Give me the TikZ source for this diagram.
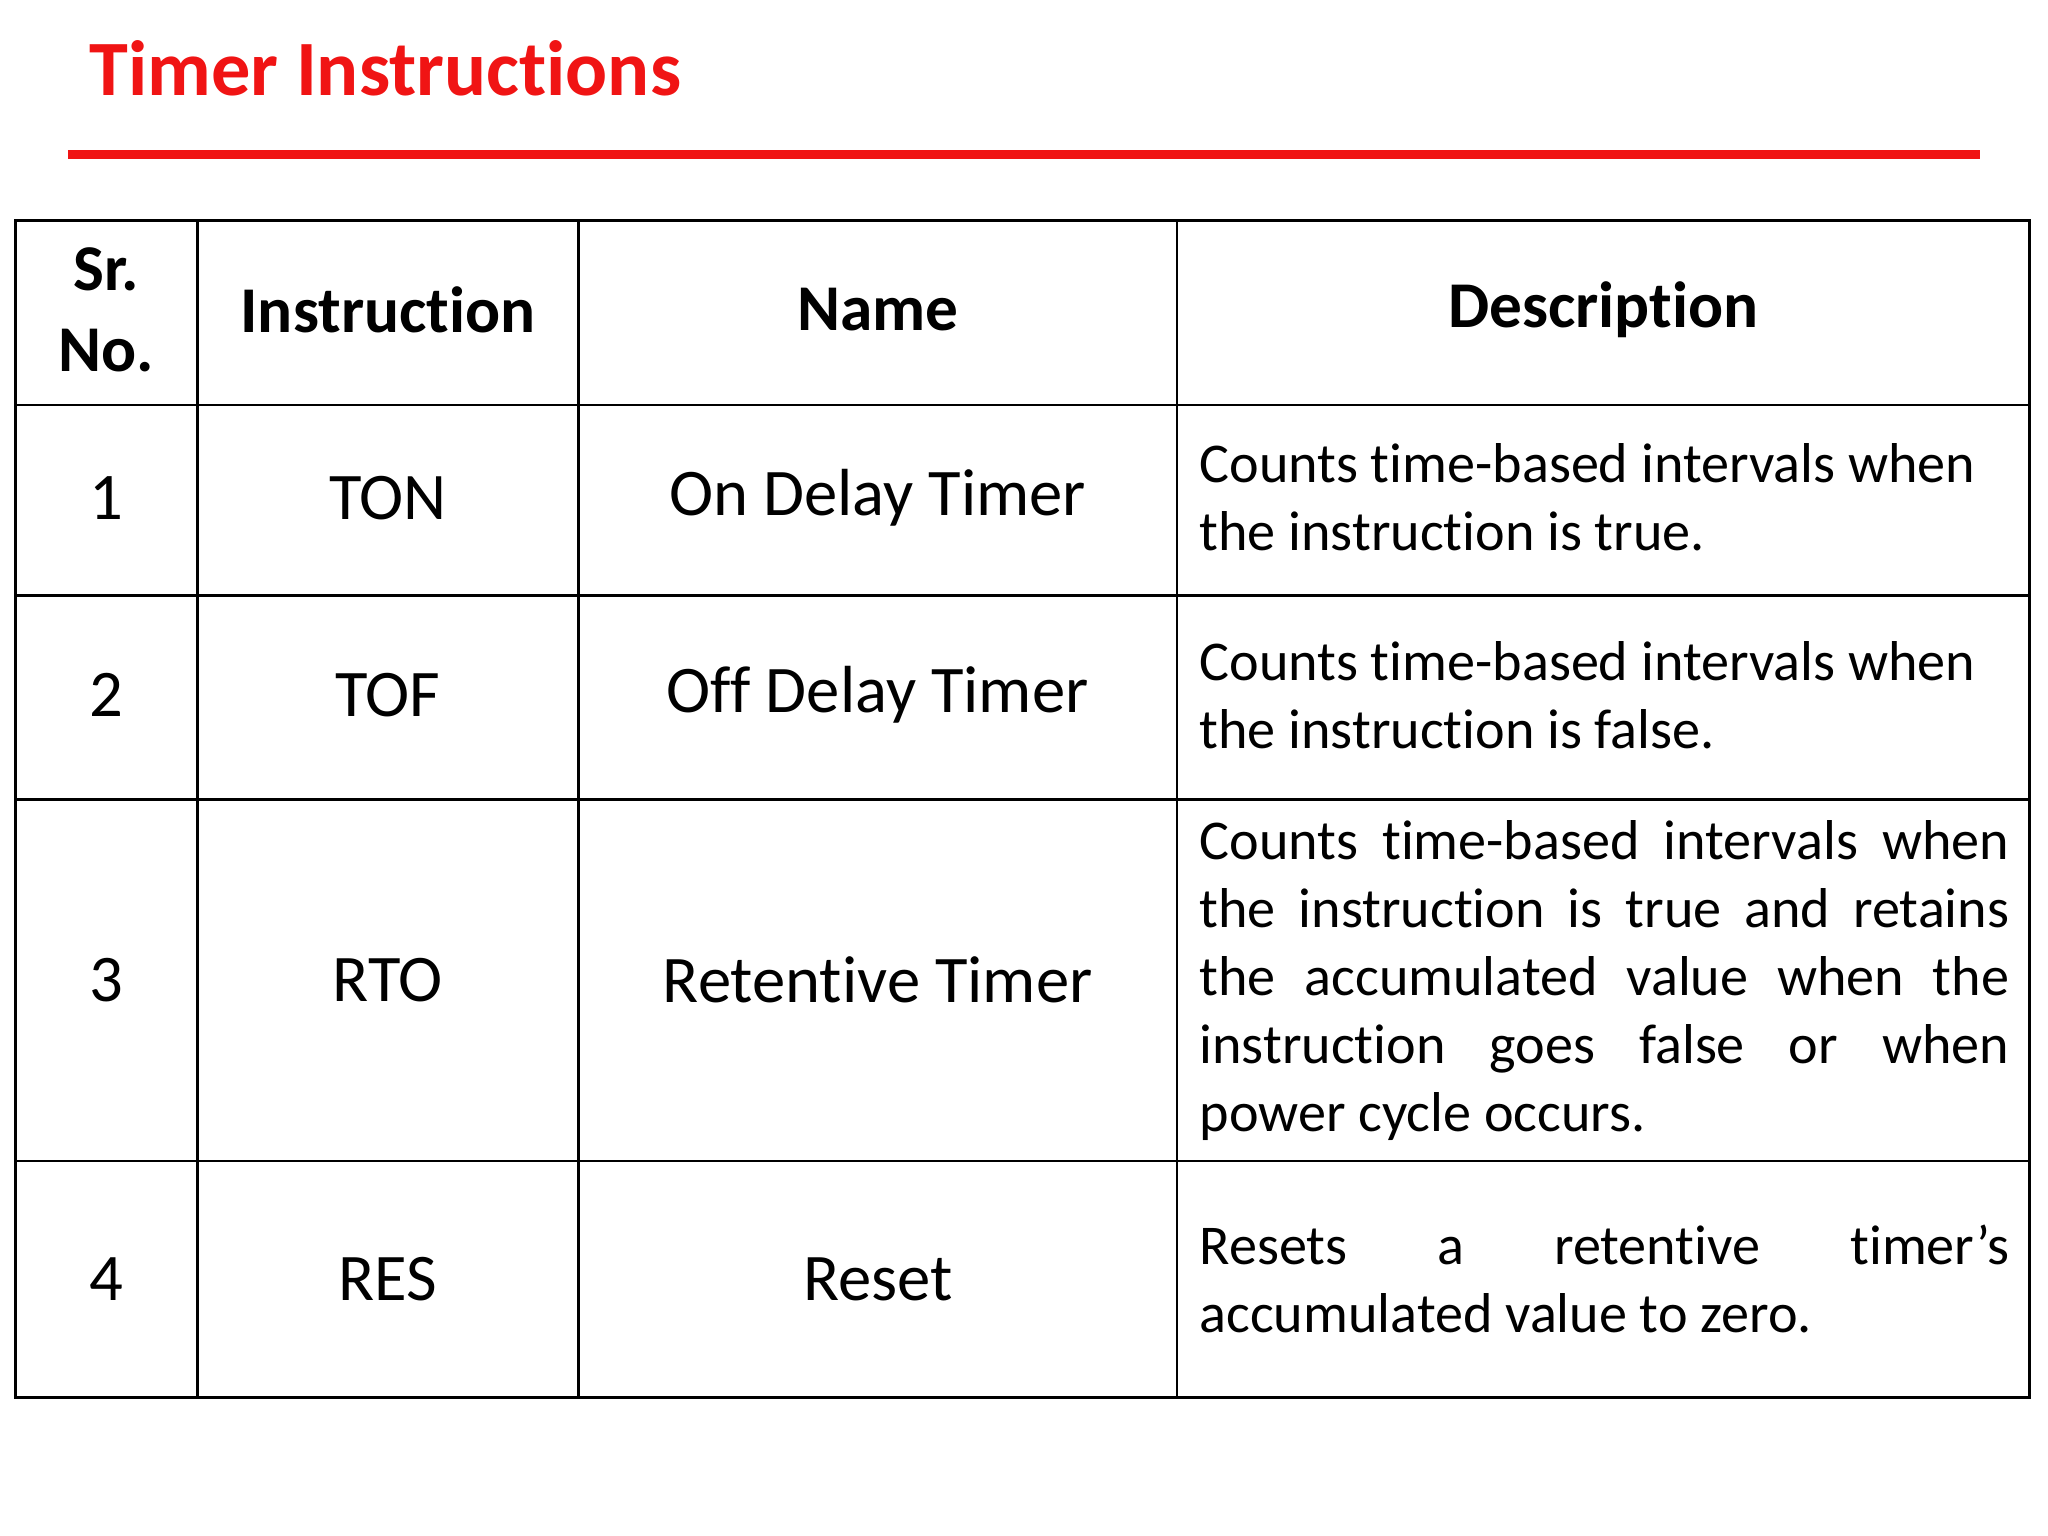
\documentclass[tikz,border=0pt]{standalone}
\usepackage{fontspec}
\setmainfont[RawFeature=-liga]{Carlito}
\definecolor{tred}{RGB}{240,20,20}
\begin{document}
\begin{tikzpicture}[x=0.5pt,y=-0.5pt,
  cell/.style={font=\fontsize{25.5}{29}\selectfont, align=center},
  head/.style={font=\fontsize{25}{31}\selectfont\bfseries, align=center},
  desc/.style={anchor=west, inner sep=0pt, font=\fontsize{21.5}{26}\selectfont, text width=310pt, align=justify},
  grid/.style={line width=1pt}]
\useasboundingbox (0,0) rectangle (1568,1176);
\node[anchor=base west, inner sep=0pt, text=tred, font=\fontsize{30}{36}\selectfont\bfseries] (title) at (68,73) {Timer Instructions};
\draw[tred, line width=3.5pt] (52,118) coordinate (r1) -- (1516,118) coordinate (r2);
% grid
\draw[grid] (12,169) rectangle (1554,1070);
\foreach \x in {151,443,901} \draw[grid] (\x,169) -- (\x,1070);
\foreach \y in {310,456,612,889} \draw[grid] (12,\y) -- (1554,\y);
% header
\node[head] (h1) at (81.5,237) {Sr.\\No.};
\node[head] (h2) at (297,237) {Instruction};
\node[head] (h3) at (672,237) {Name};
\node[head] (h4) at (1227.5,237) {Description};
% rows
\node[cell] (a1) at (81.5,381) {1};
\node[cell] (b1) at (297,381) {TON};
\node[cell] (c1) at (672,381) {On Delay Timer};
\node[desc] (d1) at (918,381) {\raggedright Counts time-based intervals when\\the instruction is true.};
\node[cell] (a2) at (81.5,532) {2};
\node[cell] (b2) at (297,532) {TOF};
\node[cell] (c2) at (672,532) {Off Delay Timer};
\node[desc] (d2) at (918,532) {\raggedright Counts time-based intervals when\\the instruction is false.};
\node[cell] (a3) at (81.5,750.5) {3};
\node[cell] (b3) at (297,750.5) {RTO};
\node[cell] (c3) at (672,750.5) {Retentive Timer};
\node[desc] (d3) at (918,750.5) {Counts time-based intervals when\linebreak the instruction is true and retains\linebreak the accumulated value when the\linebreak instruction goes false or when\linebreak power cycle occurs.};
\node[cell] (a4) at (81.5,979.5) {4};
\node[cell] (b4) at (297,979.5) {RES};
\node[cell] (c4) at (672,979.5) {Reset};
\node[desc] (d4) at (918,979.5) {Resets a retentive timer’s\linebreak accumulated value to zero.};
\end{tikzpicture}
\end{document}
